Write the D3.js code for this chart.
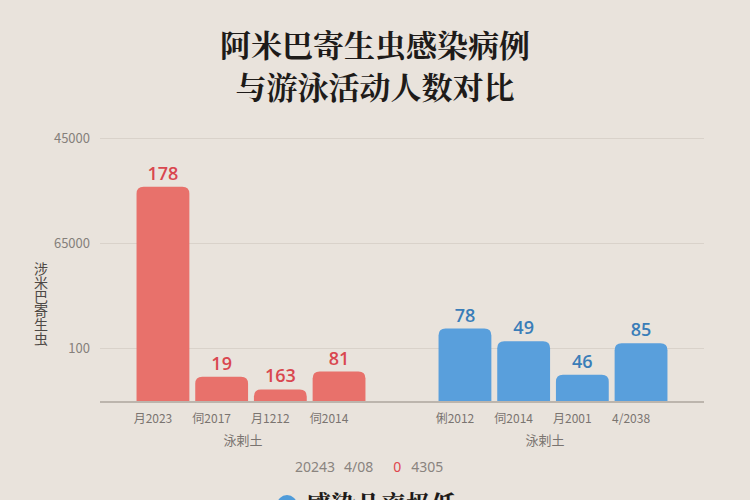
<!DOCTYPE html>
<html>
  <head>
    <meta charset="utf-8">
    <script src="https://d3js.org/d3.v7.min.js"></script>
    <style>
      body { margin: 0; background: #e9e3dc; }
      #chart { background-color: #e9e3dc; display: block; }
      .axis text { font: 12px "Noto Sans CJK SC", sans-serif; fill: #7a7470; }
      .axis path, .axis line { display: none; }
    </style>
  </head>
  <body>
    <svg id="chart"></svg>
    <script>
      // two groups, four bars each
      var groups = ['red', 'blue'];
      var categories = [
        ['月2023', '伺2017', '月1212', '伺2014'],
        ['俐2012', '伺2014', '月2001', '4/2038']
      ];
      // bar heights read against the y ticks
      var redValues = [204, 23, 11, 28];
      var blueValues = [69, 57, 25, 55];
      // printed numbers above the bars
      var redLabels = ['178', '19', '163', '81'];
      var blueLabels = ['78', '49', '46', '85'];
      var yTickValues = [50, 150, 250];
      var yTickLabels = ['100', '65000', '45000'];
      var groupLabel = '泳剌土';
      var yTitle = '涉米巴寄生虫';
      var titleLines = ['阿米巴寄生虫感染病例', '与游泳活动人数对比'];
      var footParts = ['20243', '4/08', '0', '4305'];
      var legendText = '感染几率极低';

      var colors = { red: '#e8716b', blue: '#599fdc' };
      var labelColors = { red: '#d9474f', blue: '#3a7db8' };

      var W = 750, H = 500;
      var svg = d3.select('#chart').attr('width', W).attr('height', H);

      var y = d3.scaleLinear().domain([0, 250]).range([401, 138.5]);

      var x0 = d3.scaleBand().domain(groups).range([100, 704])
        .paddingInner(0.242).paddingOuter(0.121);
      var x1 = d3.scaleBand().domain(d3.range(4)).range([0, x0.bandwidth()])
        .paddingInner(0.1).paddingOuter(0);

      // title
      svg.selectAll('.title')
        .data(titleLines)
        .enter().append('text')
          .attr('class', 'title')
          .attr('x', W / 2)
          .attr('y', (d, i) => 57 + i * 42)
          .attr('text-anchor', 'middle')
          .style('font-family', '"Noto Serif CJK SC", "Noto Sans CJK SC", serif')
          .style('font-weight', 700)
          .style('font-size', '31px')
          .style('fill', '#1e1b19')
          .text(d => d);

      // grid lines
      svg.append('g')
        .selectAll('line')
        .data(yTickValues)
        .enter().append('line')
          .attr('x1', 100).attr('x2', 704)
          .attr('y1', d => y(d)).attr('y2', d => y(d))
          .attr('stroke', '#d9d2ca').attr('stroke-width', 1);

      // y axis
      var yAxis = d3.axisLeft(y)
        .tickValues(yTickValues)
        .tickSize(0)
        .tickPadding(10)
        .tickFormat((d, i) => yTickLabels[i]);
      svg.append('g')
        .attr('class', 'axis y')
        .attr('transform', 'translate(100,0)')
        .call(yAxis);
      svg.selectAll('.axis.y text').style('font-size', '13px').style('fill', '#85807b');

      // y title, upright vertical
      svg.append('text')
        .attr('x', 41)
        .attr('y', 262)
        .style('writing-mode', 'vertical-rl')
        .style('text-orientation', 'upright')
        .style('font', '14px "Noto Sans CJK SC", sans-serif')
        .style('fill', '#4e4945')
        .text(yTitle);

      var roundTop = (x, yTop, w, h, r) => {
        r = Math.min(r, h, w / 2);
        return `M${x},${yTop + h}V${yTop + r}Q${x},${yTop} ${x + r},${yTop}` +
          `H${x + w - r}Q${x + w},${yTop} ${x + w},${yTop + r}V${yTop + h}Z`;
      };

      var series = [
        { key: 'red', values: redValues, labels: redLabels, cats: categories[0] },
        { key: 'blue', values: blueValues, labels: blueLabels, cats: categories[1] }
      ];

      series.forEach(s => {
        var g = svg.append('g')
          .attr('transform', `translate(${x0(s.key)},0)`);

        g.selectAll('path.bar')
          .data(s.values)
          .enter().append('path')
            .attr('class', 'bar')
            .attr('fill', colors[s.key])
            .attr('d', (d, i) => roundTop(x1(i), y(d), x1.bandwidth(), y(0) - y(d), 7));

        g.selectAll('text.val')
          .data(s.values)
          .enter().append('text')
            .attr('class', 'val')
            .attr('x', (d, i) => x1(i) + x1.bandwidth() / 2)
            .attr('y', d => y(d) - 7)
            .attr('text-anchor', 'middle')
            .style('font', '600 18px "Open Sans", "Noto Sans", sans-serif')
            .style('fill', labelColors[s.key])
            .text((d, i) => s.labels[i]);

        // category ticks
        var xa = d3.axisBottom(d3.scaleBand().domain(s.cats).range(x1.range()).paddingInner(0.1))
          .tickSize(0)
          .tickPadding(13);
        var ax = g.append('g')
          .attr('class', 'axis x')
          .attr('transform', `translate(0,${y(0)})`)
          .call(xa);
        ax.selectAll('text').attr('dx', -10).style('font-size', '12px');

        g.append('text')
          .attr('x', x0.bandwidth() / 2 - 8)
          .attr('y', 445)
          .attr('text-anchor', 'middle')
          .style('font', '13px "Noto Sans CJK SC", sans-serif')
          .style('fill', '#7a7470')
          .text(groupLabel);
      });

      // baseline
      svg.append('line')
        .attr('x1', 100).attr('x2', 704)
        .attr('y1', y(0) + 1).attr('y2', y(0) + 1)
        .attr('stroke', '#bcb5ad').attr('stroke-width', 2);

      // footer line
      var foot = svg.append('text')
        .attr('x', 295)
        .attr('y', 472)
        .style('font', '14px "Noto Sans", sans-serif')
        .style('fill', '#8a847f');
      var gaps = [0, 9, 20, 10];
      footParts.forEach((p, i) => {
        foot.append('tspan')
          .attr('dx', gaps[i])
          .style('fill', p === '0' ? '#e0464c' : '#8a847f')
          .text(p);
      });

      // legend, partly outside the frame as in the source
      svg.append('circle')
        .attr('cx', 287).attr('cy', 505).attr('r', 10)
        .attr('fill', '#4f9bd9');
      svg.append('text')
        .attr('x', 306)
        .attr('y', 514)
        .style('font-family', '"Noto Serif CJK SC", "Noto Sans CJK SC", serif')
        .style('font-weight', 700)
        .style('font-size', '25px')
        .style('fill', '#1e1b19')
        .text(legendText);
    </script>
  </body>
</html>
